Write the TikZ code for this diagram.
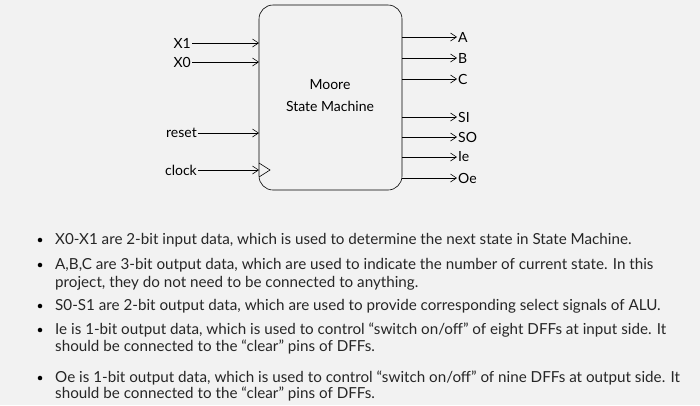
\documentclass[tikz,border=0pt]{standalone}
\usepackage{fontspec}
\setmainfont{Lato}
\usetikzlibrary{arrows.meta}
\begin{document}
\begin{tikzpicture}[x=1pt,y=-1pt,
  lbl/.style={font=\fontsize{14}{16}\selectfont,inner sep=1pt},
  txt/.style={font=\fontsize{15.2}{17}\selectfont,anchor=west,inner sep=0pt,text=black!85},
  sig/.style={-{Straight Barb[length=6pt,width=8pt]},semithick},
  bul/.style={circle,fill=black,inner sep=1.6pt}]
\fill[gray!10] (0,0) rectangle (700,405);
\useasboundingbox (0,0) rectangle (700,405);
\draw[semithick,rounded corners=14pt] (259,5) rectangle (402,190);
\node[lbl] (t1) at (330,85) {Moore};
\node[lbl] (t2) at (330,106) {State Machine};
% inputs
\foreach \n/\t/\xs/\y in {x1/X1/192/43, x0/X0/192/62, rs/reset/198/133, ck/clock/198/170}{
  \node[lbl,anchor=east] (\n) at (\xs,\y) {\t};
  \coordinate (\n e) at (259,\y);
  \draw[sig] (\n) -- (\n e);
}
\draw[semithick] (259,163) -- (270,170) -- (259,177);
% outputs
\foreach \n/\t/\y in {a/A/37, b/B/58, c/C/79, s1/SI/117, s0/SO/137, ie/Ie/157, oe/Oe/178}{
  \coordinate (\n s) at (402,\y);
  \node[lbl,anchor=west] (\n) at (457,\y) {\t};
  \draw[sig] (\n s) -- (\n);
}
% bullets
\foreach \y in {240,265,306,330,378}{ \node[bul] at (40,\y) {}; }
\node[txt] (l1) at (55,240) {X0-X1 are 2-bit input data, which is used to determine the next state in State Machine.};
\node[txt] (l2) at (55,265) {A,B,C are 3-bit output data, which are used to indicate the number of current state. In this};
\node[txt] (l3) at (55,283) {project, they do not need to be connected to anything.};
\node[txt] (l4) at (55,306) {S0-S1 are 2-bit output data, which are used to provide corresponding select signals of ALU.};
\node[txt] (l5) at (55,330) {Ie is 1-bit output data, which is used to control ``switch on/off'' of eight DFFs at input side. It};
\node[txt] (l6) at (55,347) {should be connected to the ``clear'' pins of DFFs.};
\node[txt] (l7) at (55,378) {Oe is 1-bit output data, which is used to control ``switch on/off'' of nine DFFs at output side. It};
\node[txt] (l8) at (55,394) {should be connected to the ``clear'' pins of DFFs.};
\end{tikzpicture}
\end{document}
